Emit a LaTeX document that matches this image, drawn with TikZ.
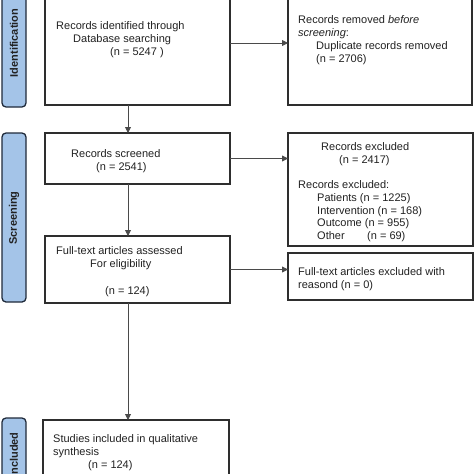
\documentclass[tikz,border=0pt]{standalone}
\usepackage{fontspec}
\setmainfont{Liberation Sans}
\usetikzlibrary{arrows.meta}
\definecolor{sidefill}{HTML}{A4C4E8}
\definecolor{sideline}{HTML}{1F2A3A}
\definecolor{boxline}{HTML}{2E2E2E}
\definecolor{arrowline}{HTML}{4A4A4A}
\definecolor{txt}{HTML}{222222}
\tikzset{
  box/.style={draw=boxline, line width=1.5pt, fill=white, inner sep=0pt, outer sep=0pt},
  side/.style={draw=sideline, line width=1.3pt, fill=sidefill, rounded corners=4pt, inner sep=0pt, outer sep=0pt},
  line/.style={anchor=base west, inner sep=0pt, text=txt, font=\fontsize{11}{13}\selectfont},
  sidetext/.style={rotate=90, inner sep=0pt, text=txt, font=\fontsize{11}{13}\selectfont\bfseries},
  conn/.style={draw=arrowline, line width=0.9pt, -{Triangle[length=6pt,width=6pt]}},
}
\begin{document}
\begin{tikzpicture}[x=1pt,y=-1pt]
\useasboundingbox (0,0) rectangle (474,474);
\clip (0,0) rectangle (474,474);
% sidebars
\node[side, minimum width=24pt, minimum height=126pt] (idside) at (14,44) {};
\node[sidetext] (idsidet) at (14,43) {Identification};
\node[side, minimum width=24pt, minimum height=169pt] (scrside) at (14,217.5) {};
\node[sidetext] (scrsidet) at (14,218) {Screening};
\node[side, minimum width=24pt, minimum height=100pt] (incside) at (14,468) {};
\node[sidetext] (incsidet) at (14,455) {Included};
% boxes
\node[box, minimum width=185pt, minimum height=124pt] (idbox) at (137.5,43) {};
\node[box, minimum width=184pt, minimum height=124pt] (rembox) at (380,43) {};
\node[box, minimum width=185pt, minimum height=51pt] (scrbox) at (137.5,158.5) {};
\node[box, minimum width=185pt, minimum height=113pt] (excbox) at (380.5,189.5) {};
\node[box, minimum width=185pt, minimum height=67pt] (ftbox) at (137.5,269.5) {};
\node[box, minimum width=185pt, minimum height=47pt] (ftexc) at (380.5,276.5) {};
\node[box, minimum width=186pt, minimum height=80pt] (incbox) at (136,460) {};
% texts
\node[line] (t1) at (56,29) {Records identified through};
\node[line] (t2) at (73,42) {Database searching};
\node[line] (t3) at (110,55) {(n = 5247 )};
\node[line] (r1) at (298,23) {Records removed \textit{before}};
\node[line] (r2) at (298,36) {\textit{screening}:};
\node[line] (r3) at (316,49) {Duplicate records removed};
\node[line] (r4) at (316,62) {(n = 2706)};
\node[line] (s1) at (71,157) {Records screened};
\node[line] (s2) at (96,170) {(n = 2541)};
\node[line] (e1) at (321,150) {Records excluded};
\node[line] (e2) at (339,163) {(n = 2417)};
\node[line] (e3) at (298,188) {Records excluded:};
\node[line] (e4) at (317,201) {Patients (n = 1225)};
\node[line] (e5) at (317,214) {Intervention (n = 168)};
\node[line] (e6) at (317,226) {Outcome (n = 955)};
\node[line] (e7) at (317,239) {Other};
\node[line] (e8) at (367,239) {(n = 69)};
\node[line] (f1) at (56,254) {Full-text articles assessed};
\node[line] (f2) at (90,267) {For eligibility};
\node[line] (f3) at (105,294) {(n = 124)};
\node[line] (x1) at (298,275) {Full-text articles excluded with};
\node[line] (x2) at (298,288) {reasond (n = 0)};
\node[line] (i1) at (53,442) {Studies included in qualitative};
\node[line] (i2) at (53,455) {synthesis};
\node[line] (i3) at (88,468) {(n = 124)};
% connectors
\coordinate (axis) at (128,0);
\draw[conn] (idbox) -- (rembox);
\draw[conn] (idbox.south -| axis) -- (scrbox.north -| axis);
\draw[conn] (scrbox.east) -- (scrbox.east -| excbox.west);
\draw[conn] (scrbox.south -| axis) -- (ftbox.north -| axis);
\draw[conn] (ftbox.east) -- (ftbox.east -| ftexc.west);
\draw[conn] (ftbox.south -| axis) -- (incbox.north -| axis);
\end{tikzpicture}
\end{document}
